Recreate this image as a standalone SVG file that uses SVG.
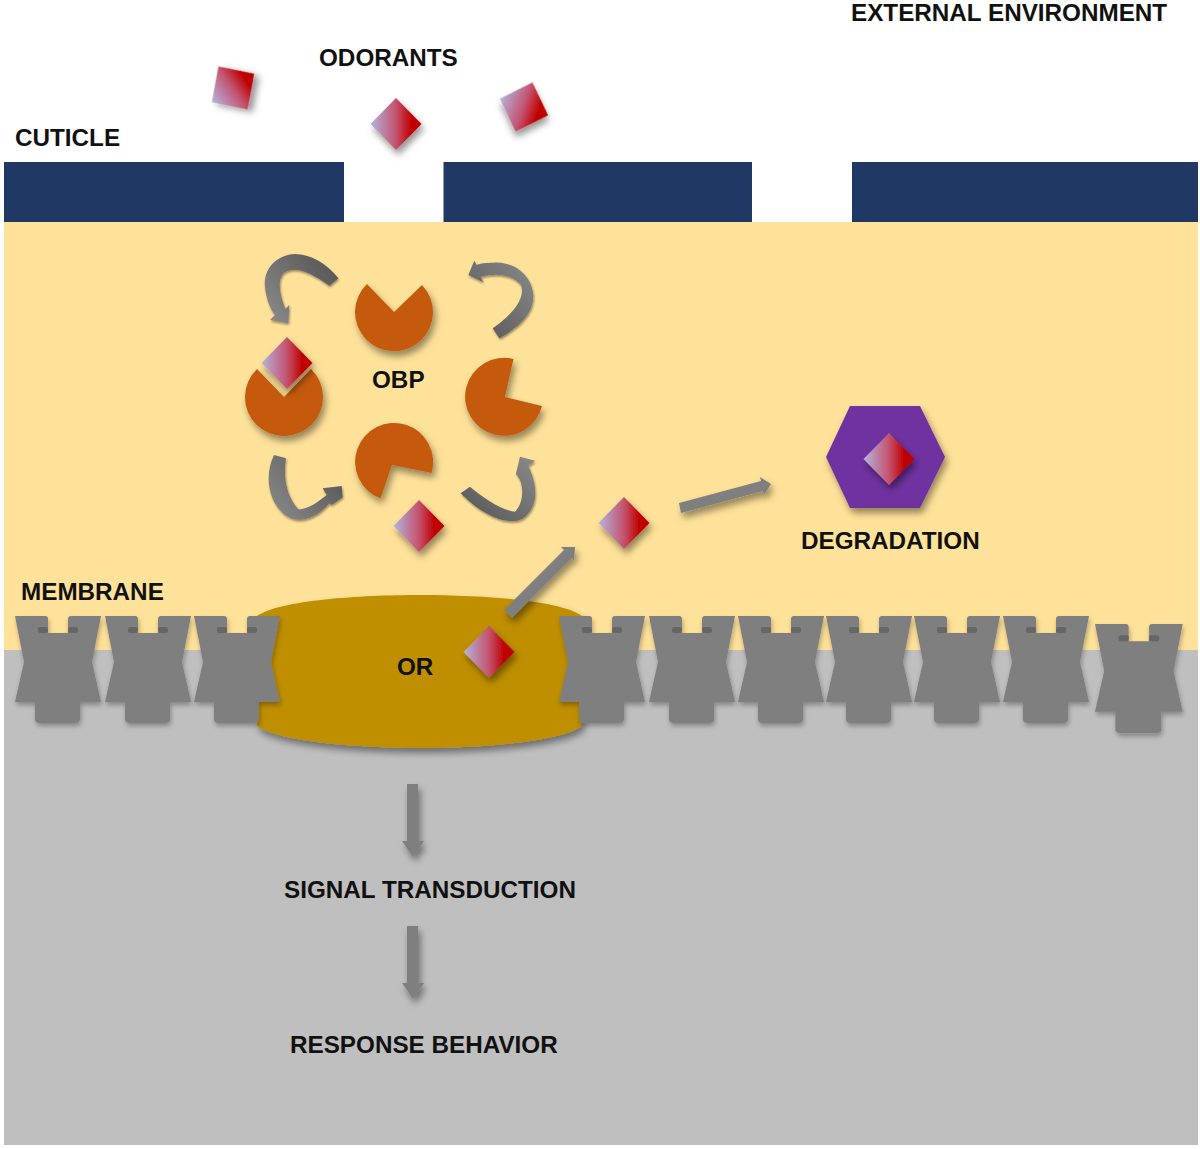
<svg xmlns="http://www.w3.org/2000/svg" xmlns:xlink="http://www.w3.org/1999/xlink" width="1200" height="1149" viewBox="0 0 1200 1149">
  <style>
    text { font-family: "Liberation Sans", Arial, sans-serif; font-weight: 700; font-size: 24.25px; fill: #111; }
    .bar { fill: #1f3864; }
    .obp { fill: #c55a11; filter: url(#shadow); }
    .arrow { fill: #7f7f7f; filter: url(#shadow); }
    .mark { fill: #666; }
    .unit { fill: #7f7f7f; }
  </style>
  <defs>
    <linearGradient id="odor" x1="0" y1="0" x2="1" y2="0">
      <stop offset="0" stop-color="#b4b4de"/>
      <stop offset="0.5" stop-color="#c4526e"/>
      <stop offset="0.8" stop-color="#c00000"/>
      <stop offset="1" stop-color="#c00000"/>
    </linearGradient>
    <linearGradient id="ribbonA" x1="1" y1="0.2" x2="0" y2="0.9">
      <stop offset="0" stop-color="#555"/>
      <stop offset="1" stop-color="#8a8a8a"/>
    </linearGradient>
    <linearGradient id="ribbonB" x1="0" y1="1" x2="1" y2="0">
      <stop offset="0" stop-color="#555"/>
      <stop offset="1" stop-color="#8a8a8a"/>
    </linearGradient>
    <filter id="shadow" x="-30%" y="-30%" width="170%" height="170%">
      <feDropShadow dx="2.500" dy="5" stdDeviation="3.500" flood-color="#000" flood-opacity="0.42"/>
    </filter>
    <filter id="soft" x="-20%" y="-20%" width="140%" height="140%">
      <feDropShadow dx="1" dy="3" stdDeviation="2.500" flood-color="#000" flood-opacity="0.3"/>
    </filter>
    <polygon id="diamond" points="-25.500,0 0,-26 25.500,0 0,26" fill="url(#odor)" filter="url(#shadow)"/>
    <g id="unit">
      <path class="unit" filter="url(#soft)" d="M0 0L30 0Q33 0 33 3L33 17L53 17L53 3Q53 0 56 0L86 0L77 46L86 86L65 86L65 103Q65 107 60 107L25 107Q20 107 20 103L20 86L0 86L9 46Z"/>
      <rect class="mark" x="23" y="11" width="10" height="6" rx="2"/>
      <rect class="mark" x="53" y="11" width="10" height="6" rx="2"/>
    </g>
  </defs>

  <rect width="1200" height="1149" fill="#fff"/>

  <g id="compartments">
    <rect x="4" y="222" width="1194" height="428" fill="#ffe299"/>
    <rect x="4" y="650" width="1194" height="495" fill="#bfbfbf"/>
  </g>

  <g id="cuticle">
    <rect class="bar" x="4" y="162" width="340" height="60"/>
    <rect class="bar" x="443.500" y="162" width="308.500" height="60"/>
    <rect class="bar" x="852" y="162" width="346" height="60"/>
  </g>

  <g id="odorants">
    <use href="#diamond" transform="translate(233 88) rotate(-34)"/>
    <use href="#diamond" transform="translate(396 124)"/>
    <use href="#diamond" transform="translate(524 107) rotate(19)"/>
  </g>

  <g id="or">
    <path filter="url(#shadow)" fill="#bf8f00" d="M257 616C280 600 360 595 420 595C480 595 560 600 582 616L582 726C560 742 480 748 420 748C360 748 280 742 257 726Z"/>
  </g>

  <g id="membrane">
    <use href="#unit" x="15" y="616"/>
    <use href="#unit" x="105" y="616"/>
    <use href="#unit" x="194" y="616"/>
    <use href="#unit" x="559" y="616"/>
    <use href="#unit" x="649" y="616"/>
    <use href="#unit" x="738" y="616"/>
    <use href="#unit" x="826" y="616"/>
    <use href="#unit" x="914" y="616"/>
    <use href="#unit" x="1003" y="616"/>
    <use href="#unit" transform="translate(1095 624) scale(1.02)"/>
  </g>

  <g id="obp-top"><path class="obp" d="M394 312L367 284A39 39 0 1 0 422 285Z"/></g>
  <g id="obp-right"><path class="obp" d="M505 397L513.500 359A39 39 0 1 0 542 406Z"/></g>
  <g id="obp-bottom"><path class="obp" d="M392 465L431.500 473A39 39 0 1 0 380.500 498.500Z"/></g>
  <g id="obp-left"><path class="obp" d="M284 397L257 369A39 39 0 1 0 311 369Z"/></g>

  <g id="odorant-bound"><use href="#diamond" transform="translate(287 363)"/></g>
  <g id="odorant-released"><use href="#diamond" transform="translate(419 526)"/></g>
  <g id="odorant-free"><use href="#diamond" transform="translate(624 523)"/></g>
  <g id="odorant-receptor"><use href="#diamond" transform="translate(489 652)"/></g>

  <g id="degradation">
    <polygon points="850,406 920,406 945,457 920,508 850,508 826,457" fill="#7030a0" filter="url(#shadow)"/>
    <use href="#diamond" transform="translate(889 459)"/>
  </g>

  <g id="connectors">
    <!-- curved cycle arrows around the binding proteins -->
    <g transform="translate(230 240) scale(0.3333)" filter="url(#shadow)">
      <path fill="url(#ribbonA)" d="M325 115C290 70 240 42 195 42C135 45 100 90 105 140C108 175 120 205 135 225L120 240L175 250L178 195L166 206C152 170 140 125 160 100C190 75 240 95 298 137Z"/>
      <path fill="url(#ribbonB)" d="M808 295C860 265 912 225 910 165C905 110 860 65 790 68C770 68 750 70 740 75L733 62L715 105L760 127L752 110C790 100 845 100 873 135C888 172 850 222 788 265Z"/>
      <path fill="url(#ribbonA)" d="M132 645L168 655C160 700 165 765 205 808C235 808 265 785 290 765L278 745L335 738L338 772L305 795L298 790C260 835 205 855 165 825C110 780 105 700 132 645Z"/>
      <path fill="url(#ribbonB)" d="M692 760L720 740C755 770 815 812 855 815C882 790 885 730 858 702L870 650L915 662L895 678C925 740 925 800 880 835C840 860 760 830 692 760Z"/>
    </g>
    <!-- straight arrows -->
    <polygon class="arrow" points="504,610 512,618 572,558 574,561 575,547 561,547 564,550"/>
    <polygon class="arrow" points="679,503 681,513 763,491 764,495 771,484 760,477 761,481"/>
    <polygon class="arrow" points="407,784 418,784 418,841 424,841 413,857 402,841 407,841"/>
    <polygon class="arrow" points="407,926 418,926 418,983 424,983 413,999 402,983 407,983"/>
  </g>

  <g id="labels">
    <text x="851" y="21">EXTERNAL ENVIRONMENT</text>
    <text x="319" y="66">ODORANTS</text>
    <text x="15" y="146">CUTICLE</text>
    <text x="372" y="388">OBP</text>
    <text x="801" y="549">DEGRADATION</text>
    <text x="21" y="600">MEMBRANE</text>
    <text x="397" y="675">OR</text>
    <text x="284" y="898">SIGNAL TRANSDUCTION</text>
    <text x="290" y="1053">RESPONSE BEHAVIOR</text>
  </g>
</svg>
